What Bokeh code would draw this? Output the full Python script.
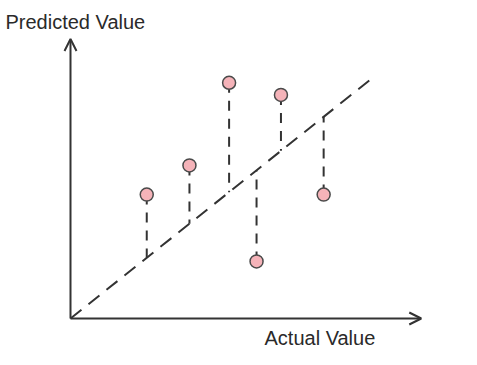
from bokeh.plotting import figure
from bokeh.models import Range1d, Arrow, OpenHead, ColumnDataSource, Label
from bokeh.embed import file_html
from bokeh.resources import INLINE

# Data
actual = [2.5, 3.9, 5.2, 6.9, 6.1, 8.3]
predicted = [5.1, 6.3, 9.7, 9.2, 2.35, 5.1]
diag_end = 10.0
x_axis_len = 11.5
y_axis_len = 11.5
x_label = "Actual Value"
y_label = "Predicted Value"

W, H = 477, 365
p = figure(width=W, height=H, output_backend="svg", toolbar_location=None,
           x_range=Range1d(-2.295, 13.344), y_range=Range1d(-1.934, 13.086),
           min_border=0, outline_line_color=None)
p.axis.visible = False
p.grid.visible = False
p.background_fill_color = "white"
p.border_fill_color = "white"

ink = "#333333"

# diagonal y = x
p.line([0, diag_end], [0, diag_end], line_color=ink, line_width=2, line_dash="14 9")

# residual dashed lines
src = ColumnDataSource(dict(x=actual, y=predicted, yfit=actual))
p.segment(x0="x", y0="y", x1="x", y1="yfit", source=src, line_color=ink,
          line_width=2, line_dash="10 8")

# axes with arrows
p.add_layout(Arrow(end=OpenHead(size=12, line_color=ink, line_width=2),
                   x_start=0, y_start=0, x_end=x_axis_len, y_end=0,
                   line_color=ink, line_width=2))
p.add_layout(Arrow(end=OpenHead(size=12, line_color=ink, line_width=2),
                   x_start=0, y_start=0, x_end=0, y_end=y_axis_len,
                   line_color=ink, line_width=2))

# points
p.scatter(x="x", y="y", source=src, size=13, fill_color="#f5b3b9",
          line_color="#4a4a4a", line_width=1.5)

# labels
p.add_layout(Label(x=5, y=H - 21, x_units="screen", y_units="screen", text=y_label,
                   text_font="Liberation Sans", text_font_size="20px",
                   text_color="#2a2a2a", text_baseline="middle"))
p.add_layout(Label(x=264, y=H - 337, x_units="screen", y_units="screen", text=x_label,
                   text_font="Liberation Sans", text_font_size="20px",
                   text_color="#2a2a2a", text_baseline="middle"))

open("out.html", "w").write(file_html(p, INLINE))
